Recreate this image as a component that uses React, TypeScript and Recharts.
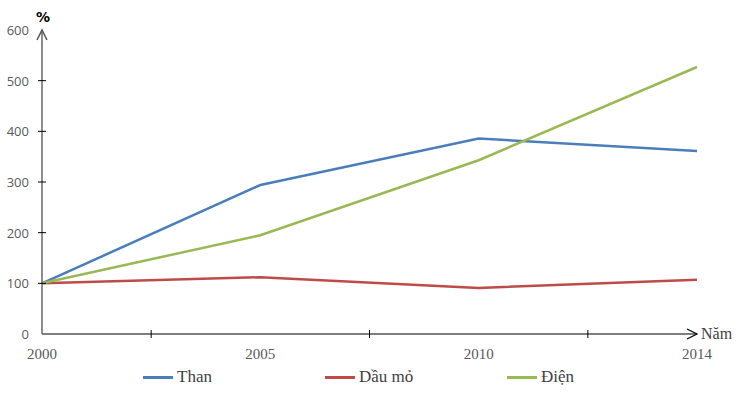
import { LineChart, Line, XAxis, YAxis, ReferenceDot } from 'recharts';

const years = ['2000', '2005', '2010', '2014'];
const than = [100, 294, 386, 361];
const dauMo = [100, 112, 91, 107];
const dien = [100, 195, 343, 527];
const yTicks = [0, 100, 200, 300, 400, 500, 600];
const xTicks = [0, 0.5, 1, 1.5, 2, 2.5, 3];

const THAN_COLOR = '#4A7EBB';
const DAU_COLOR = '#BE4B48';
const DIEN_COLOR = '#98B954';

const data = years.map((year, i) => ({
  i,
  year,
  than: than[i],
  dauMo: dauMo[i],
  dien: dien[i],
}));

function XTick({ x, y, payload }: any) {
  const v = payload.value;
  if (v % 1 !== 0) {
    return <line x1={x} x2={x} y1={y - 4} y2={y + 4} stroke="#000" strokeWidth={1} />;
  }
  return (
    <text x={x} y={y + 25} textAnchor="middle" fontFamily="Liberation Serif, serif" fontSize={15} fill="#595959">
      {years[v]}
    </text>
  );
}

function YTick({ x, y, payload }: any) {
  const v = payload.value;
  return (
    <g>
      {v > 0 && v < 600 && <line x1={x - 4} x2={x + 4} y1={y} y2={y} stroke="#000" strokeWidth={1} />}
      <text x={x - 13} y={y + 5} textAnchor="end" fontFamily="Open Sans, sans-serif" fontSize={13} fill="#595959">
        {v}
      </text>
    </g>
  );
}

function XArrow({ cx, cy }: any) {
  return (
    <g>
      <path d={`M${cx - 10},${cy - 5} L${cx},${cy} L${cx - 10},${cy + 5}`} stroke="#000" strokeWidth={1.2} fill="none" />
      <text x={cx + 4} y={cy + 5} fontFamily="Liberation Serif, serif" fontSize={16} fill="#404040">
        Năm
      </text>
    </g>
  );
}

function YArrow({ cx, cy }: any) {
  return (
    <g>
      <path d={`M${cx - 5},${cy + 10} L${cx},${cy} L${cx + 5},${cy + 10}`} stroke="#555" strokeWidth={1.5} fill="none" />
      <text x={cx + 1} y={cy - 8} textAnchor="middle" fontFamily="DejaVu Sans, sans-serif" fontWeight="bold" fontSize={14} fill="#000">
        %
      </text>
    </g>
  );
}

function LegendItem({ color, label }: { color: string; label: string }) {
  return (
    <div style={{ width: 182, display: 'flex', alignItems: 'center' }}>
      <span style={{ width: 30, height: 3, background: color, marginRight: 4 }} />
      <span style={{ fontFamily: 'Liberation Serif, serif', fontSize: 17, color: '#404040' }}>{label}</span>
    </div>
  );
}

export default function App() {
  return (
    <div style={{ position: 'relative', width: 740, height: 396, background: '#fff' }}>
      <style>{`body{margin:0}`}</style>
      <LineChart width={740} height={396} data={data} margin={{ top: 30, right: 43, left: 41, bottom: 32 }}>
        <XAxis
          dataKey="i"
          type="number"
          domain={[0, 3]}
          ticks={xTicks}
          interval={0}
          height={30}
          tickSize={0}
          tickMargin={0}
          tickLine={false}
          axisLine={{ stroke: '#000', strokeWidth: 1.2 }}
          tick={<XTick />}
        />
        <YAxis
          type="number"
          domain={[0, 600]}
          ticks={yTicks}
          interval={0}
          width={1}
          tickSize={0}
          tickMargin={0}
          tickLine={false}
          axisLine={{ stroke: '#666', strokeWidth: 1.5 }}
          tick={<YTick />}
        />
        <Line type="linear" dataKey="than" stroke={THAN_COLOR} strokeWidth={2.5} dot={false} isAnimationActive={false} />
        <Line type="linear" dataKey="dauMo" stroke={DAU_COLOR} strokeWidth={2.5} dot={false} isAnimationActive={false} />
        <Line type="linear" dataKey="dien" stroke={DIEN_COLOR} strokeWidth={2.5} dot={false} isAnimationActive={false} />
        <ReferenceDot x={3} y={0} r={0} ifOverflow="visible" shape={<XArrow />} />
        <ReferenceDot x={0} y={600} r={0} ifOverflow="visible" shape={<YArrow />} />
      </LineChart>
      <div style={{ position: 'absolute', left: 143, top: 367, display: 'flex' }}>
        <LegendItem color={THAN_COLOR} label="Than" />
        <LegendItem color={DAU_COLOR} label="Dầu mỏ" />
        <LegendItem color={DIEN_COLOR} label="Điện" />
      </div>
    </div>
  );
}
